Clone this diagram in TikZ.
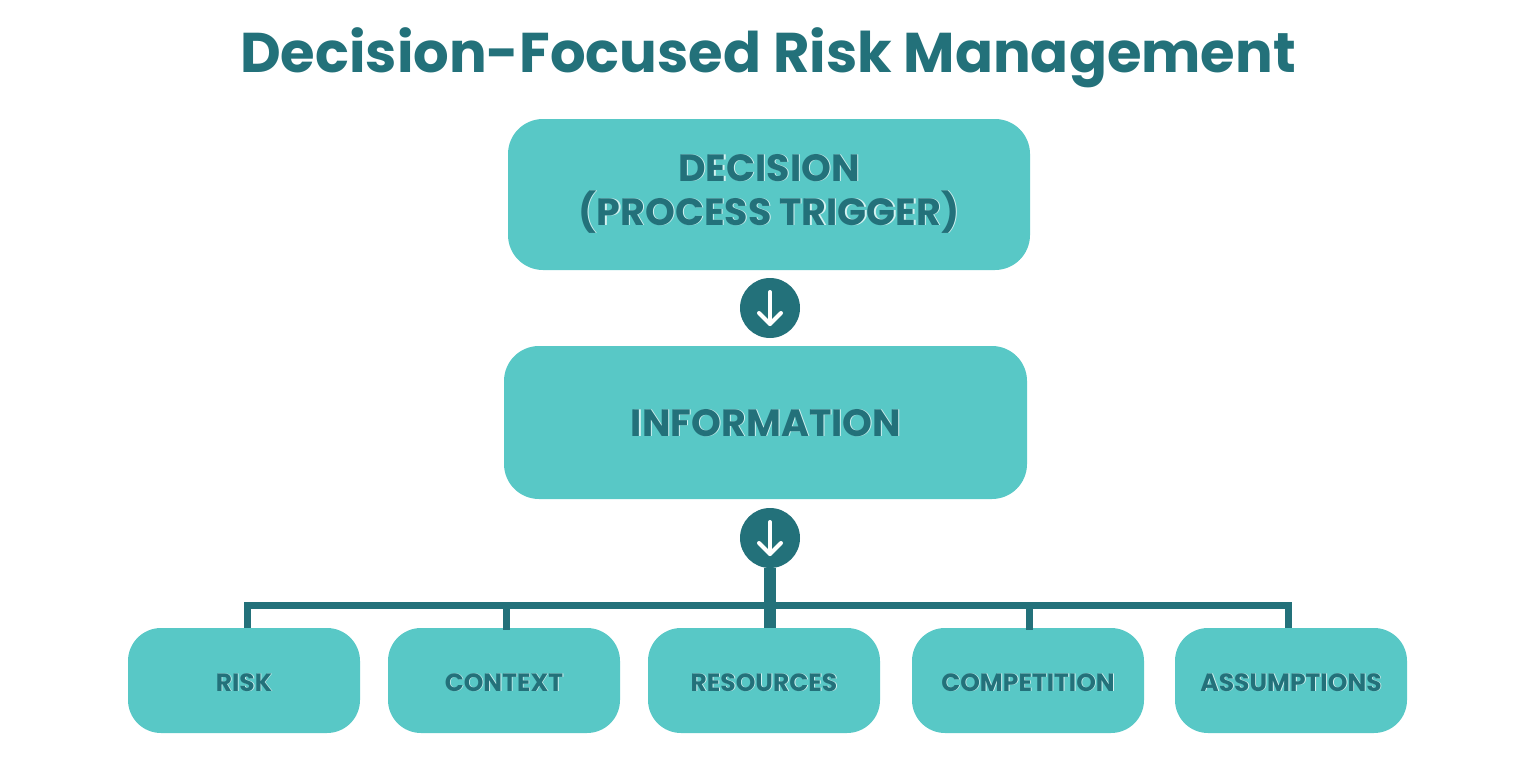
\documentclass[tikz,border=0pt]{standalone}
\usepackage{fontspec}
\setmainfont{Poppins}[UprightFont=* SemiBold,BoldFont=* Bold]
\definecolor{teal}{HTML}{58C8C6}
\definecolor{dteal}{HTML}{23717A}
\definecolor{lteal}{HTML}{D4F2F1}
\newcommand{\shtext}[2]{\makebox[0pt]{\raisebox{0pt}[0pt][0pt]{\makebox[0pt]{\hspace*{#1}\color{lteal}\ignorespaces#2}}}\makebox[0pt]{\color{dteal}#2}}
\begin{document}
\begin{tikzpicture}[x=1pt,y=-1pt,
  box/.style={fill=teal,rounded corners=35pt},
  circ/.style={circle,fill=dteal,minimum size=60pt,inner sep=0pt},
  bus/.style={draw=dteal,line width=7pt},
  arr/.style={draw=white,line width=4pt,line cap=round,line join=round}]
\useasboundingbox (0,0) rectangle (1536,768);
\node[text=dteal,font=\bfseries\fontsize{56}{60}\selectfont] (title) at (768,58) {Decision-Focused Risk Management};
\fill[box] (508,119) rectangle (1030,270);
\fill[box] (504,346) rectangle (1027,499);
\coordinate (dec) at (769,194);
\coordinate (inf) at (766,423);
\node[font=\bfseries\fontsize{38}{46}\selectfont,align=center] (dtxt) at (dec) {\shtext{2.5pt}{DECISION}\\[-2pt]\shtext{2.5pt}{(PROCESS TRIGGER)}};
\node[font=\bfseries\fontsize{38}{46}\selectfont] (itxt) at (inf) {\shtext{2.5pt}{INFORMATION}};
\node[circ] (c1) at (770,308) {};
\node[circ] (c2) at (770,538) {};
\foreach \c in {c1,c2}{
  \draw[arr] ([yshift=16pt]\c.center) -- ([yshift=-16pt]\c.center);
  \draw[arr] ([xshift=-11pt,yshift=-5pt]\c.center) -- ([yshift=-16pt]\c.center) -- ([xshift=11pt,yshift=-5pt]\c.center);
}
\draw[bus] (247,631) -- (247,605) -- (1288,605) -- (1288,631);
\draw[dteal,line width=12pt] (c2.south) -- (770,631);
\foreach \x/\l/\n in {128/RISK/b1,388/CONTEXT/b2,648/RESOURCES/b3,912/COMPETITION/b4,1175/ASSUMPTIONS/b5}{
  \fill[box,rounded corners=33pt] (\x,628) rectangle ++(232,105);
  \node[font=\bfseries\fontsize{25}{30}\selectfont] (\n) at (\x+116,683) {\shtext{1.8pt}{\l}};
}
\draw[bus] (506,605) -- (506,630);
\draw[bus] (1029,605) -- (1029,630);
\end{tikzpicture}
\end{document}
